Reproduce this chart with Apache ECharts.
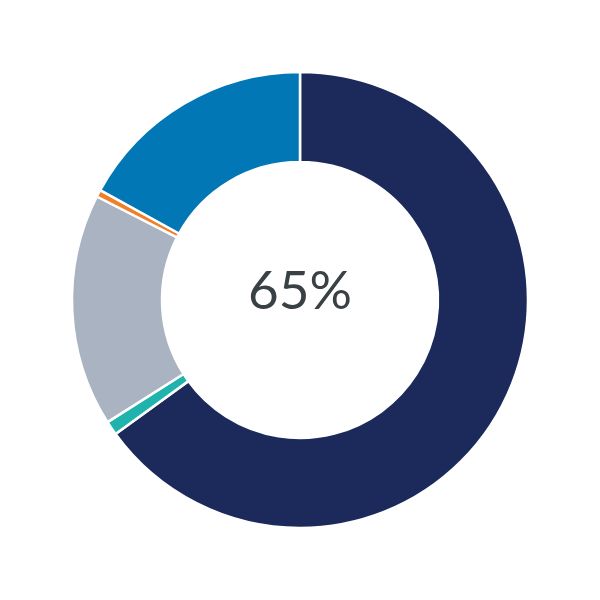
<!DOCTYPE html>
<html>
<head>
<meta charset="utf-8">
<script src="https://cdn.jsdelivr.net/npm/echarts@6/dist/echarts.min.js"></script>
<style>html,body{margin:0;padding:0;background:#fff}#c{width:600px;height:600px}</style>
</head>
<body>
<div id="c"></div>
<script>
const categories = ['A', 'B', 'C', 'D', 'E'];
const values = [65, 1, 16.5, 0.5, 17];
const colors = ['#1b2a5a', '#1fb3ae', '#a9b3c2', '#f07f2a', '#0277b6'];
const centerLabel = '65%';

const chart = echarts.init(document.getElementById('c'), null, {renderer: 'canvas'});
chart.setOption({
  animation: false,
  series: [{
    type: 'pie',
    center: [300, 300],
    radius: [138, 228],
    startAngle: 90,
    clockwise: true,
    label: {show: false},
    labelLine: {show: false},
    itemStyle: {borderColor: '#fff', borderWidth: 2.5},
    emphasis: {disabled: true},
    data: categories.map((c, i) => ({name: c, value: values[i], itemStyle: {color: colors[i]}}))
  }],
  graphic: [{
    type: 'text',
    left: 'center',
    top: 265,
    style: {
      text: centerLabel,
      font: 'normal 400 53px Lato',
      fill: '#3a4145'
    }
  }]
});
</script>
</body>
</html>
